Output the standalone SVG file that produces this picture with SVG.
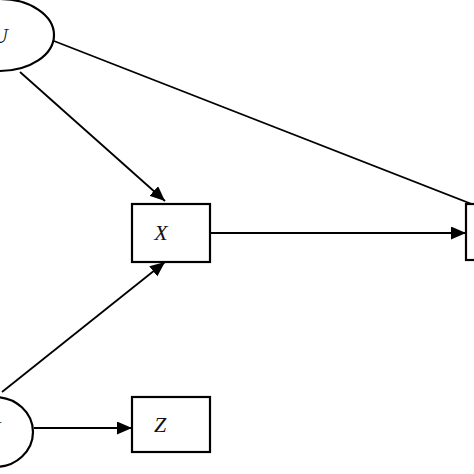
<svg xmlns="http://www.w3.org/2000/svg" width="474" height="474" viewBox="0 0 474 474">
<defs>
<marker id="ah" markerWidth="15" markerHeight="13" refX="15" refY="6.5" orient="auto" markerUnits="userSpaceOnUse">
<path d="M0,0 L15,6.5 L0,13 Z" fill="#000"/>
</marker>
<style>
.n{fill:#fff;stroke:#000;stroke-width:2.2}
.e{stroke:#000;stroke-width:1.8;fill:none}
.t{font-family:"Liberation Serif","DejaVu Serif",serif;font-style:italic;font-size:22px;fill:#111}
</style>
</defs>
<rect width="474" height="474" fill="#fff"/>
<g id="connectors">
<line class="e" x1="54" y1="41" x2="474" y2="205"/>
<line class="e" x1="20" y1="72" x2="165" y2="201" marker-end="url(#ah)"/>
<line class="e" x1="210" y1="233" x2="466" y2="233" marker-end="url(#ah)"/>
<line class="e" x1="2" y1="392" x2="165" y2="262" marker-end="url(#ah)"/>
<line class="e" x1="34" y1="428" x2="132" y2="428" marker-end="url(#ah)"/>
</g>
<g id="U">
<ellipse class="n" cx="0" cy="35" rx="54" ry="36"/>
<text class="t" x="-8" y="43">U</text>
</g>
<g id="X">
<rect class="n" x="132" y="204" width="78" height="58"/>
<text class="t" x="161" y="240" text-anchor="middle">X</text>
</g>
<g id="Y">
<rect class="n" x="466" y="204" width="30" height="56"/>
</g>
<g id="V">
<ellipse class="n" cx="-5" cy="432" rx="38" ry="35"/>
<text class="t" x="-14" y="436">V</text>
</g>
<g id="Z">
<rect class="n" x="132" y="397" width="78" height="55"/>
<text class="t" x="160" y="432" text-anchor="middle">Z</text>
</g>
</svg>
